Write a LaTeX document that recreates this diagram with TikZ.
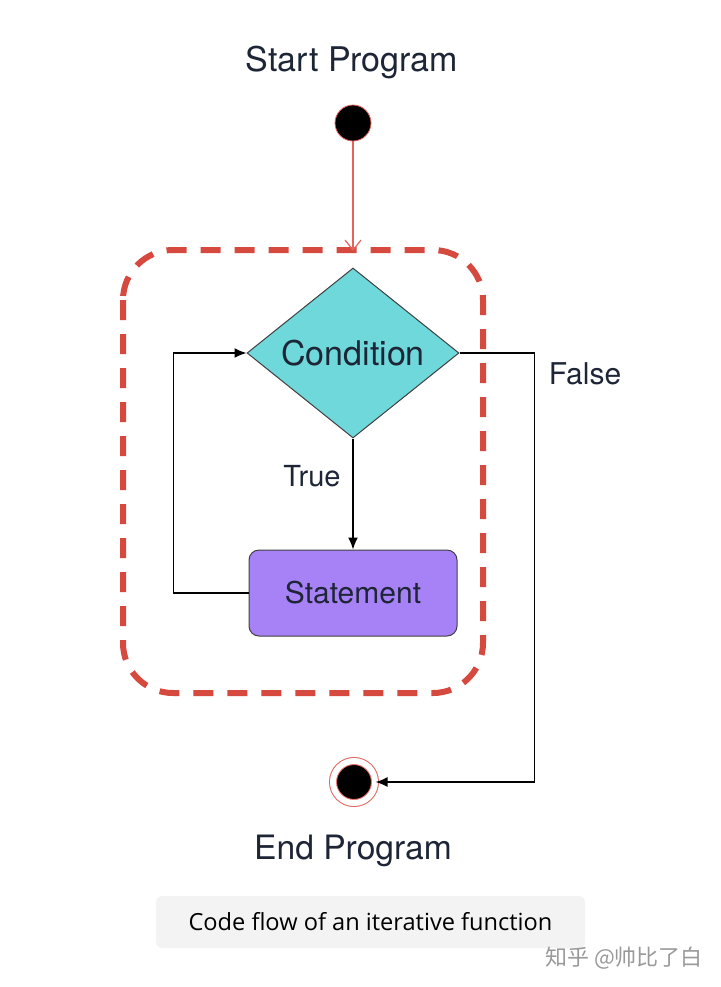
\documentclass[tikz,border=0pt]{standalone}
\usepackage{fontspec}
\setmainfont{TeX Gyre Heros}
\newfontfamily\capfont{Open Sans}
\newfontfamily\cjk{Noto Sans CJK SC}
\usepackage{xcolor}
\usetikzlibrary{shapes,arrows,arrows.meta,positioning,calc}

\definecolor{inkblue}{HTML}{1E2536}
\definecolor{loopred}{HTML}{D6493F}
\definecolor{linered}{HTML}{E2645D}
\definecolor{condfill}{HTML}{6ED8DB}
\definecolor{stmtfill}{HTML}{A782F6}
\definecolor{capgray}{HTML}{F3F3F3}

\tikzset{
  label/.style={inner sep=0pt, text=inkblue},
  flow/.style={-{Latex[length=6pt,width=5pt]}, line width=0.75pt, black},
}

\begin{document}
\begin{tikzpicture}[x=0.5pt,y=-0.5pt]
            \useasboundingbox (0,0) rectangle (720,987);

            % start point and its title
            \node[label, font=\fontsize{17}{20}\selectfont] (starttxt) at (352,62) {Start Program};
            \node[circle, fill=black, draw=linered, line width=0.4pt, minimum size=18pt, inner sep=0pt] (start) at (353,123) {};

            % the loop, in a dashed box
            \draw[loopred, line width=3pt, dash pattern=on 10pt off 7pt, rounded corners=25pt] (123,250) rectangle (483,693);
            \coordinate (boxtop) at (353,251);
            \draw[-{Straight Barb[length=5pt,width=8pt]}, linered, line width=0.6pt] (start) -- (boxtop);

            \node[diamond, aspect=1.25, draw=black!75, line width=0.5pt, fill=condfill, inner sep=0pt,
                  minimum width=106pt, minimum height=85pt, text=inkblue, font=\fontsize{17}{20}\selectfont] (cond) at (353,353) {Condition};
            \node[rectangle, rounded corners=5pt, draw=black!75, line width=0.5pt, fill=stmtfill,
                  minimum width=104pt, minimum height=43pt, text=inkblue, font=\fontsize{15}{18}\selectfont] (stmt) at (353,593) {Statement};

            \draw[flow] (cond) -- (stmt);
            \node[label, font=\fontsize{14.5}{17}\selectfont] (truetxt) at (312,476) {True};
            \draw[flow] (stmt.west) -- ++(-75,0) |- (cond.west);

            % leave the loop
            \node[circle, fill=black, draw=linered, line width=0.5pt, double=white, double distance=3pt,
                  minimum size=21pt, inner sep=0pt] (endpt) at (354,782) {};
            \draw[flow] (cond.east) -- ++(75,0) |- (endpt.east);
            \node[label, font=\fontsize{15}{18}\selectfont] (falsetxt) at (585,374) {False};
            \node[label, font=\fontsize{16.8}{20}\selectfont] (endtxt) at (353,851) {End Program};

            % caption and mark
            \node[fill=capgray, rounded corners=3pt, minimum width=214.5pt, minimum height=26pt,
                  font=\capfont\fontsize{11.8}{14}\selectfont] (cap) at (370.5,922) {Code flow of an iterative function};
            \node[inner sep=0pt, text=black!40, font=\cjk\fontsize{11}{13}\selectfont] (mark) at (624,958) {知乎 @帅比了白};
\end{tikzpicture}
\end{document}
